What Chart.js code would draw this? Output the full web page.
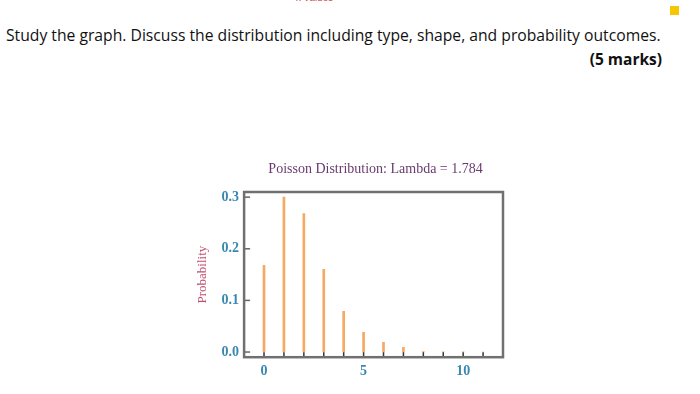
<!DOCTYPE html>
<html>
<head>
<meta charset="utf-8">
<script src="https://cdn.jsdelivr.net/npm/chart.js@4.4.0/dist/chart.umd.min.js"></script>
<style>
  body { margin: 0; width: 700px; height: 394px; background: #fff; position: relative; overflow: hidden; }
  #question { position: absolute; left: 6px; top: 24px; font-family: "Open Sans", sans-serif; font-size: 15.7px; color: #111; white-space: nowrap; }
  #marks { position: absolute; right: 38px; top: 48px; font-family: "Open Sans", sans-serif; font-size: 15.5px; font-weight: bold; color: #111; }
  #flag { position: absolute; left: 670px; top: 6px; width: 9px; height: 9px; background: #f7c600; }
  #cut { position: absolute; left: 296px; top: -8px; font-family: "Liberation Sans", sans-serif; font-size: 10px; color: #d05050; }
  #wrap { position: absolute; left: 180px; top: 150px; width: 340px; height: 238px; }
</style>
</head>
<body>
<div id="flag"></div>
<div id="cut">x-values</div>
<div id="question">Study the graph. Discuss the distribution including type, shape, and probability outcomes.</div>
<div id="marks">(5 marks)</div>
<div id="wrap"><canvas id="poisson-chart"></canvas></div>
<script>
document.addEventListener('DOMContentLoaded', function() {
    // outcomes k and their probabilities
    var outcomes = [0, 1, 2, 3, 4, 5, 6, 7, 8, 9, 10, 11];
    var probabilities = [0.168, 0.300, 0.268, 0.160, 0.079, 0.038, 0.019, 0.009, 0.001, 0.0005, 0.0002, 0.0001];
    var yTicks = [0, 0.1, 0.2, 0.3];
    var xLabelled = [0, 5, 10];
    var chartTitle = 'Poisson Distribution: Lambda = 1.784';

    var points = outcomes.map(function(k, i) {
        return { x: k, y: probabilities[i] };
    });

    // box around the plot, tick marks pointing inward, title centred over the plot
    var frame = {
        id: 'frame',
        afterDatasetsDraw: function(chart) {
            var ctx = chart.ctx;
            var a = chart.chartArea;
            var xs = chart.scales.x, ys = chart.scales.y;
            ctx.save();
            ctx.strokeStyle = '#333';
            ctx.lineWidth = 1.5;
            outcomes.forEach(function(k) {
                var px = xs.getPixelForValue(k);
                ctx.beginPath();
                ctx.moveTo(px, a.bottom);
                ctx.lineTo(px, a.bottom - 5);
                ctx.stroke();
            });
            ctx.strokeStyle = '#666';
            yTicks.forEach(function(v) {
                var py = ys.getPixelForValue(v);
                ctx.beginPath();
                ctx.moveTo(a.left, py);
                ctx.lineTo(a.left + 6, py);
                ctx.stroke();
            });
            ctx.strokeStyle = '#707070';
            ctx.lineWidth = 2.5;
            ctx.strokeRect(a.left, a.top, a.right - a.left, a.bottom - a.top);

            ctx.fillStyle = '#6a3a6e';
            ctx.font = '14px "Liberation Serif"';
            ctx.textAlign = 'center';
            ctx.textBaseline = 'middle';
            ctx.fillText(chartTitle, (a.left + a.right) / 2 + 2, a.top - 23);
            ctx.restore();
        }
    };

    var tickFont = { family: 'Liberation Serif', size: 14, weight: 'bold' };

    var ctx = document.getElementById('poisson-chart').getContext('2d');
    new Chart(ctx, {
        type: 'bar',
        data: {
            datasets: [{
                label: 'Probability',
                data: points,
                backgroundColor: '#f6a865',
                barThickness: 2
            }]
        },
        options: {
            responsive: true,
            maintainAspectRatio: false,
            animation: false,
            layout: { padding: { left: 15, right: 17, top: 42, bottom: 2 } },
            plugins: {
                legend: { display: false },
                tooltip: { enabled: false },
                title: { display: false }
            },
            scales: {
                x: {
                    type: 'linear',
                    min: -1,
                    max: 12,
                    offset: false,
                    afterBuildTicks: function(axis) {
                        axis.ticks = outcomes.map(function(k) { return { value: k }; });
                    },
                    ticks: {
                        autoSkip: false,
                        maxRotation: 0,
                        color: '#3a88b0',
                        font: tickFont,
                        padding: 6,
                        callback: function(v) {
                            return xLabelled.indexOf(v) >= 0 ? String(v) : '';
                        }
                    },
                    grid: { display: false, drawTicks: false, tickLength: 0 },
                    border: { display: false }
                },
                y: {
                    min: -0.01,
                    max: 0.31,
                    afterBuildTicks: function(axis) {
                        axis.ticks = yTicks.map(function(v) { return { value: v }; });
                    },
                    ticks: {
                        color: '#3a88b0',
                        font: tickFont,
                        padding: 5,
                        callback: function(v) { return v.toFixed(1); }
                    },
                    title: {
                        display: true,
                        text: 'Probability',
                        color: '#c0506e',
                        font: { family: 'Liberation Serif', size: 13 },
                        padding: { top: 0, bottom: 6 }
                    },
                    grid: { display: false, drawTicks: false, tickLength: 0 },
                    border: { display: false }
                }
            }
        },
        plugins: [frame]
    });
});
</script>
</body>
</html>
